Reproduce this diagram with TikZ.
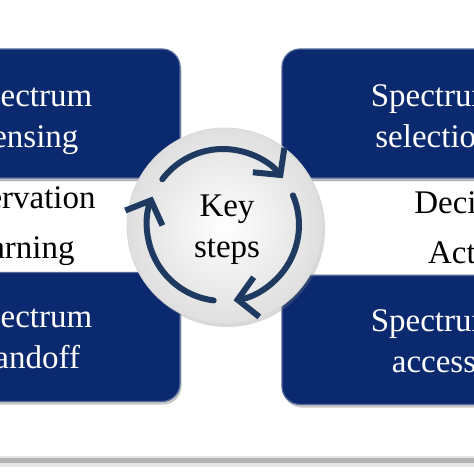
\documentclass[tikz,border=0pt]{standalone}
\usepackage{fontspec}
\setmainfont{Liberation Serif}
\usetikzlibrary{arrows.meta,shadows}
\definecolor{stepblue}{HTML}{0A296E}
\definecolor{ringblue}{HTML}{1F3A60}
\definecolor{bandedge}{HTML}{C8CCD4}

\begin{document}
\begin{tikzpicture}[
  x=1pt,
  y=-1pt,
  line cap=round,
  stepbox/.style={fill=stepblue,draw=stepblue!70!white,line width=1.2pt,rounded corners=18pt,
    minimum width=298pt,minimum height=129pt,
    drop shadow={opacity=0.45,shadow xshift=1.5pt,shadow yshift=-3pt}},
  boxlabel/.style={text=white,align=center,font=\fontsize{33}{41}\selectfont},
  midlabel/.style={text=black,align=center,font=\fontsize{33}{50}\selectfont},
  keydisc/.style={circle,minimum size=196pt,inner color=white,outer color=gray!25,
    draw=gray!30,line width=0.8pt,
    drop shadow={opacity=0.3,shadow xshift=2pt,shadow yshift=-3pt}},
  cycle/.style={draw=ringblue,line width=6pt,-{Straight Barb[length=19pt,width=40pt]}}
]
  \useasboundingbox (0,0) rectangle (474,474);
  \clip (0,0) rectangle (474,474);

  % White strip behind the middle labels, and the frame line at the foot.
  \path[fill=white,draw=bandedge,line width=0.8pt] (-5,180) rectangle (479,274);
  \draw[gray!20,line width=11pt] (-5,461) -- (479,461);
  \draw[gray!60,line width=5pt] (-5,460) -- (479,460);

  % The four spectrum boxes run past the picture edges.
  \node[stepbox] (sensing) at (31,113.5) {};
  \node[stepbox] (selection) at (431,113.5) {};
  \node[stepbox] (handoff) at (31,337) {};
  \node[stepbox] (access) at (431,340) {};

  \node[boxlabel] (sensingtext) at (29,119.9) {Spectrum\\sensing};
  \node[boxlabel] (selectiontext) at (434,116.3) {Spectrum\\selection};
  \node[boxlabel] (handofftext) at (29,337.3) {Spectrum\\handoff};
  \node[boxlabel] (accesstext) at (434,341.3) {Spectrum\\access};

  \node[midlabel] (observe) at (15,225.9) {Observation\\Learning};
  \node[midlabel] (decide) at (473,227.8) {Decision\\Action};

  % Centre button with the three-arrow cycle.
  \node[keydisc] (keysteps) at (225,226) {};
  \node[boxlabel,text=black] (keytext) at (227,230.1) {Key\\steps};
  \coordinate (ring) at (223,225);
  \foreach \s in {97,217,337}
    \draw[cycle] (ring) ++(\s:76) arc[start angle=\s,end angle=\s+105,radius=76];
\end{tikzpicture}
\end{document}
